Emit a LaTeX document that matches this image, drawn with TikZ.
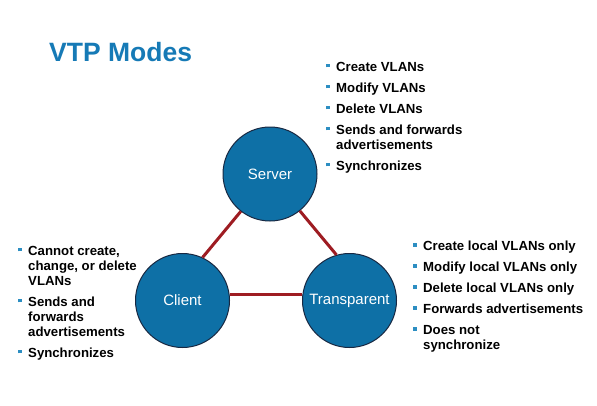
\documentclass[tikz,border=0pt]{standalone}
\usepackage{fontspec}
\setmainfont{Liberation Sans}
\usepackage{tikz}
\definecolor{titleblue}{RGB}{22,122,182}
\definecolor{modeblue}{RGB}{14,112,166}
\definecolor{modeedge}{RGB}{24,40,66}
\definecolor{linkred}{RGB}{158,28,34}
\definecolor{bulletblue}{RGB}{44,142,194}
\newcommand{\modeitem}[1]{\strut\makebox[10pt][l]{\textcolor{bulletblue}{\rule[3.8pt]{3.8pt}{3.8pt}}}#1}
\newcommand{\modecont}[1]{\hspace*{10pt}#1}

\begin{document}
\begin{tikzpicture}[x=1pt,y=-1pt,
  mode/.style={circle,draw=modeedge,line width=1pt,fill=modeblue,text=white,
    minimum size=94pt,inner sep=0pt,font=\fontsize{15}{18}\selectfont},
  link/.style={draw=linkred,line width=3pt},
  modelist/.style={anchor=north west,inner sep=0pt,align=left,
    font=\fontsize{13.2}{15}\selectfont\bfseries}]
  \useasboundingbox[fill=white] (0,0) rectangle (597,405);
  \node[anchor=base west,inner sep=0pt,text=titleblue,
    font=\fontsize{26.5}{30}\selectfont\bfseries] (title) at (49,61) {VTP Modes};
  \node[mode] (server) at (270,174) {Server};
  \node[mode] (client) at (182.5,300.5) {Client};
  \node[mode] (transparent) at (349.5,300.5) {Transparent};
  \draw[link] (server.232) -- (client.65);
  \draw[link] (server.309) -- (transparent.106);
  \draw[link] (client.7) -- (transparent.173);
  \node[modelist] (serverlist) at (326,60.5) {%
    \modeitem{Create VLANs}\\[6pt]
    \modeitem{Modify VLANs}\\[6pt]
    \modeitem{Delete VLANs}\\[6pt]
    \modeitem{Sends and forwards}\\
    \modecont{advertisements}\\[6pt]
    \modeitem{Synchronizes}};
  \node[modelist] (clientlist) at (18,244.5) {%
    \modeitem{Cannot create,}\\
    \modecont{change, or delete}\\
    \modecont{VLANs}\\[6pt]
    \modeitem{Sends and}\\
    \modecont{forwards}\\
    \modecont{advertisements}\\[6pt]
    \modeitem{Synchronizes}};
  \node[modelist] (translist) at (413,240) {%
    \modeitem{Create local VLANs only}\\[6pt]
    \modeitem{Modify local VLANs only}\\[6pt]
    \modeitem{Delete local VLANs only}\\[6pt]
    \modeitem{Forwards advertisements}\\[6pt]
    \modeitem{Does not}\\
    \modecont{synchronize}};
\end{tikzpicture}
\end{document}
